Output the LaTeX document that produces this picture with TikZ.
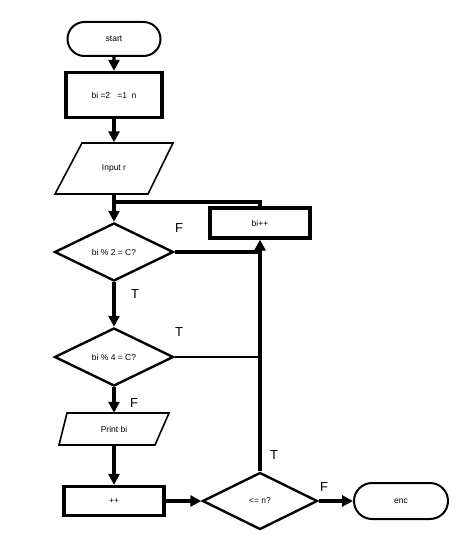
\documentclass[tikz,border=0pt]{standalone}
\usepackage{fontspec}
\setmainfont{Liberation Sans}
\usetikzlibrary{shapes.geometric,shapes.misc,arrows.meta}
\begin{document}
\begin{tikzpicture}[x=1pt,y=-1pt,
  txt/.style={font=\fontsize{8.5}{10}\selectfont},
  term/.style={rounded rectangle,draw,line width=2pt,inner sep=0pt,txt},
  proc/.style={rectangle,draw,line width=3.2pt,inner sep=0pt,txt},
  dec/.style={diamond,draw,line width=2.4pt,inner sep=0pt,txt},
  io/.style={rectangle,inner sep=0pt,txt},
  lab/.style={font=\fontsize{13}{14}\selectfont},
  arr/.style={line width=3.2pt,-{Triangle[length=11pt,width=11pt]}},
  ln/.style={line width=3.2pt},
]
\useasboundingbox (0,0) rectangle (474,545);
\node[term,minimum width=93pt,minimum height=34pt] (start) at (114,39) {start};
\node[proc,minimum width=96pt,minimum height=45pt] (init) at (114,95) {bi =2\ \ \ =1\ \ n};
\node[io,minimum width=95pt,minimum height=51pt] (in) at (114,168) {Input r};
\draw[line width=1.6pt] (55,194) -- (82,143) -- (173,143) -- (148,194) -- cycle;
\node[proc,minimum width=100pt,minimum height=30pt] (inc) at (260,223) {bi++};
\node[dec,minimum width=119pt,minimum height=58pt] (d1) at (114,252) {bi \% 2 = C?};
\node[dec,minimum width=119pt,minimum height=58pt] (d2) at (114,357) {bi \% 4 = C?};
\node[io,minimum width=96pt,minimum height=32pt] (pr) at (114,429) {Print bi};
\draw[line width=1.6pt] (59,445) -- (67,413) -- (169,413) -- (155,445) -- cycle;
\node[proc,minimum width=100pt,minimum height=29pt] (pp) at (114,501) {++};
\node[dec,minimum width=115pt,minimum height=57pt] (d3) at (260,501) {<= n?};
\node[term,minimum width=94pt,minimum height=36pt] (end) at (401,501) {enc};
\coordinate (j1) at (260,252);
\coordinate (j2) at (260,357);
\coordinate (top) at (260,202);
\coordinate (topl) at (114,202);
% connectors
\draw[arr] (start) -- (init);
\draw[arr] (init) -- (in.north);
\draw[arr] (in.south) -- (d1.north);
\draw[ln] (inc.north) -- (top) -- (topl);
\draw[ln] (d1.east) -- (j1);
\draw[line width=2.2pt] (d2.east) -- (j2);
\draw[arr] (d3.north) -- (inc.south);
\draw[arr] (d1.south) -- (d2.north);
\draw[arr] (d2.south) -- (pr.north);
\draw[arr] (pr.south) -- (pp.north);
\draw[arr] (pp.east) -- (d3.west);
\draw[arr] (d3.east) -- (end.west);
% labels
\node[lab] (lF1) at (179,228) {F};
\node[lab] (lT1) at (135,294) {T};
\node[lab] (lT2) at (179,332) {T};
\node[lab] (lF2) at (134,403) {F};
\node[lab] (lT3) at (274,455) {T};
\node[lab] (lF3) at (324,487) {F};
\end{tikzpicture}
\end{document}
